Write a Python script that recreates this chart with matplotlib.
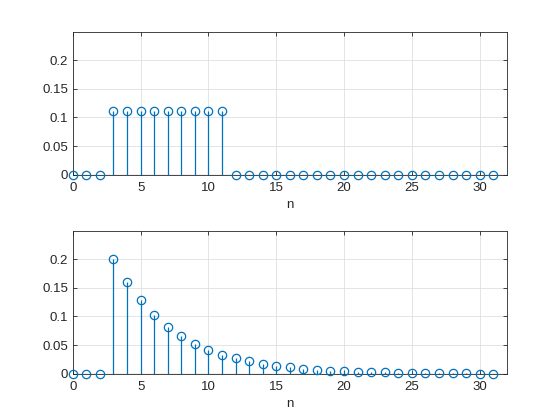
import numpy as np
import matplotlib.pyplot as plt
from matplotlib.ticker import FuncFormatter

plt.rcParams['font.family'] = ['Liberation Sans', 'DejaVu Sans']
plt.rcParams['font.size'] = 9.5

n = np.arange(32)

# caja: 9 muestras de 1/9 a partir de n=3
caja = [0, 0, 0, 0.111, 0.111, 0.111, 0.111, 0.111, 0.111, 0.111, 0.111, 0.111,
        0, 0, 0, 0, 0, 0, 0, 0, 0, 0, 0, 0, 0, 0, 0, 0, 0, 0, 0, 0]

# exponencial decreciente a partir de n=3
expo = [0, 0, 0, 0.2, 0.16, 0.128, 0.1024, 0.082, 0.0655, 0.0524, 0.042, 0.0336,
        0.0268, 0.0215, 0.0172, 0.0137, 0.011, 0.0088, 0.007, 0.0056, 0.0045,
        0.0036, 0.0029, 0.0023, 0.0018, 0.0015, 0.0012, 0.0009, 0.0008, 0.0006,
        0.0005, 0.0004]

azul = '#0072BD'
gris = '#262626'

fig = plt.figure(figsize=(5.6, 4.2), dpi=100)
posiciones = [[0.13, 0.583811, 0.775, 0.341163], [0.13, 0.11, 0.775, 0.341163]]

def fmt(v, pos):
    return '%g' % round(v, 4)

for pos, datos in zip(posiciones, [caja, expo]):
    ax = fig.add_axes(pos)
    ax.vlines(n, 0, datos, color=azul, linewidth=0.9, zorder=3)
    ax.plot(n, datos, 'o', markersize=6, markerfacecolor='none',
            markeredgecolor=azul, markeredgewidth=0.9, zorder=4, clip_on=False)
    ax.axhline(0, color='black', linewidth=0.8, zorder=2)
    ax.set_xlim(0, 32)
    ax.set_ylim(0, 0.25)
    ax.set_xticks([0, 5, 10, 15, 20, 25, 30])
    ax.set_yticks([0, 0.05, 0.1, 0.15, 0.2])
    ax.yaxis.set_major_formatter(FuncFormatter(fmt))
    ax.grid(True, color='#dfdfdf', linewidth=0.6)
    ax.set_axisbelow(True)
    ax.tick_params(direction='in', top=True, right=True, length=3,
                   colors=gris, labelcolor=gris, width=0.6)
    ax.tick_params(axis='x', pad=5)
    for s in ax.spines.values():
        s.set_color(gris)
        s.set_linewidth(0.6)
    ax.set_xlabel('n', color=gris, labelpad=4)

fig.savefig('out.png', dpi=100)
